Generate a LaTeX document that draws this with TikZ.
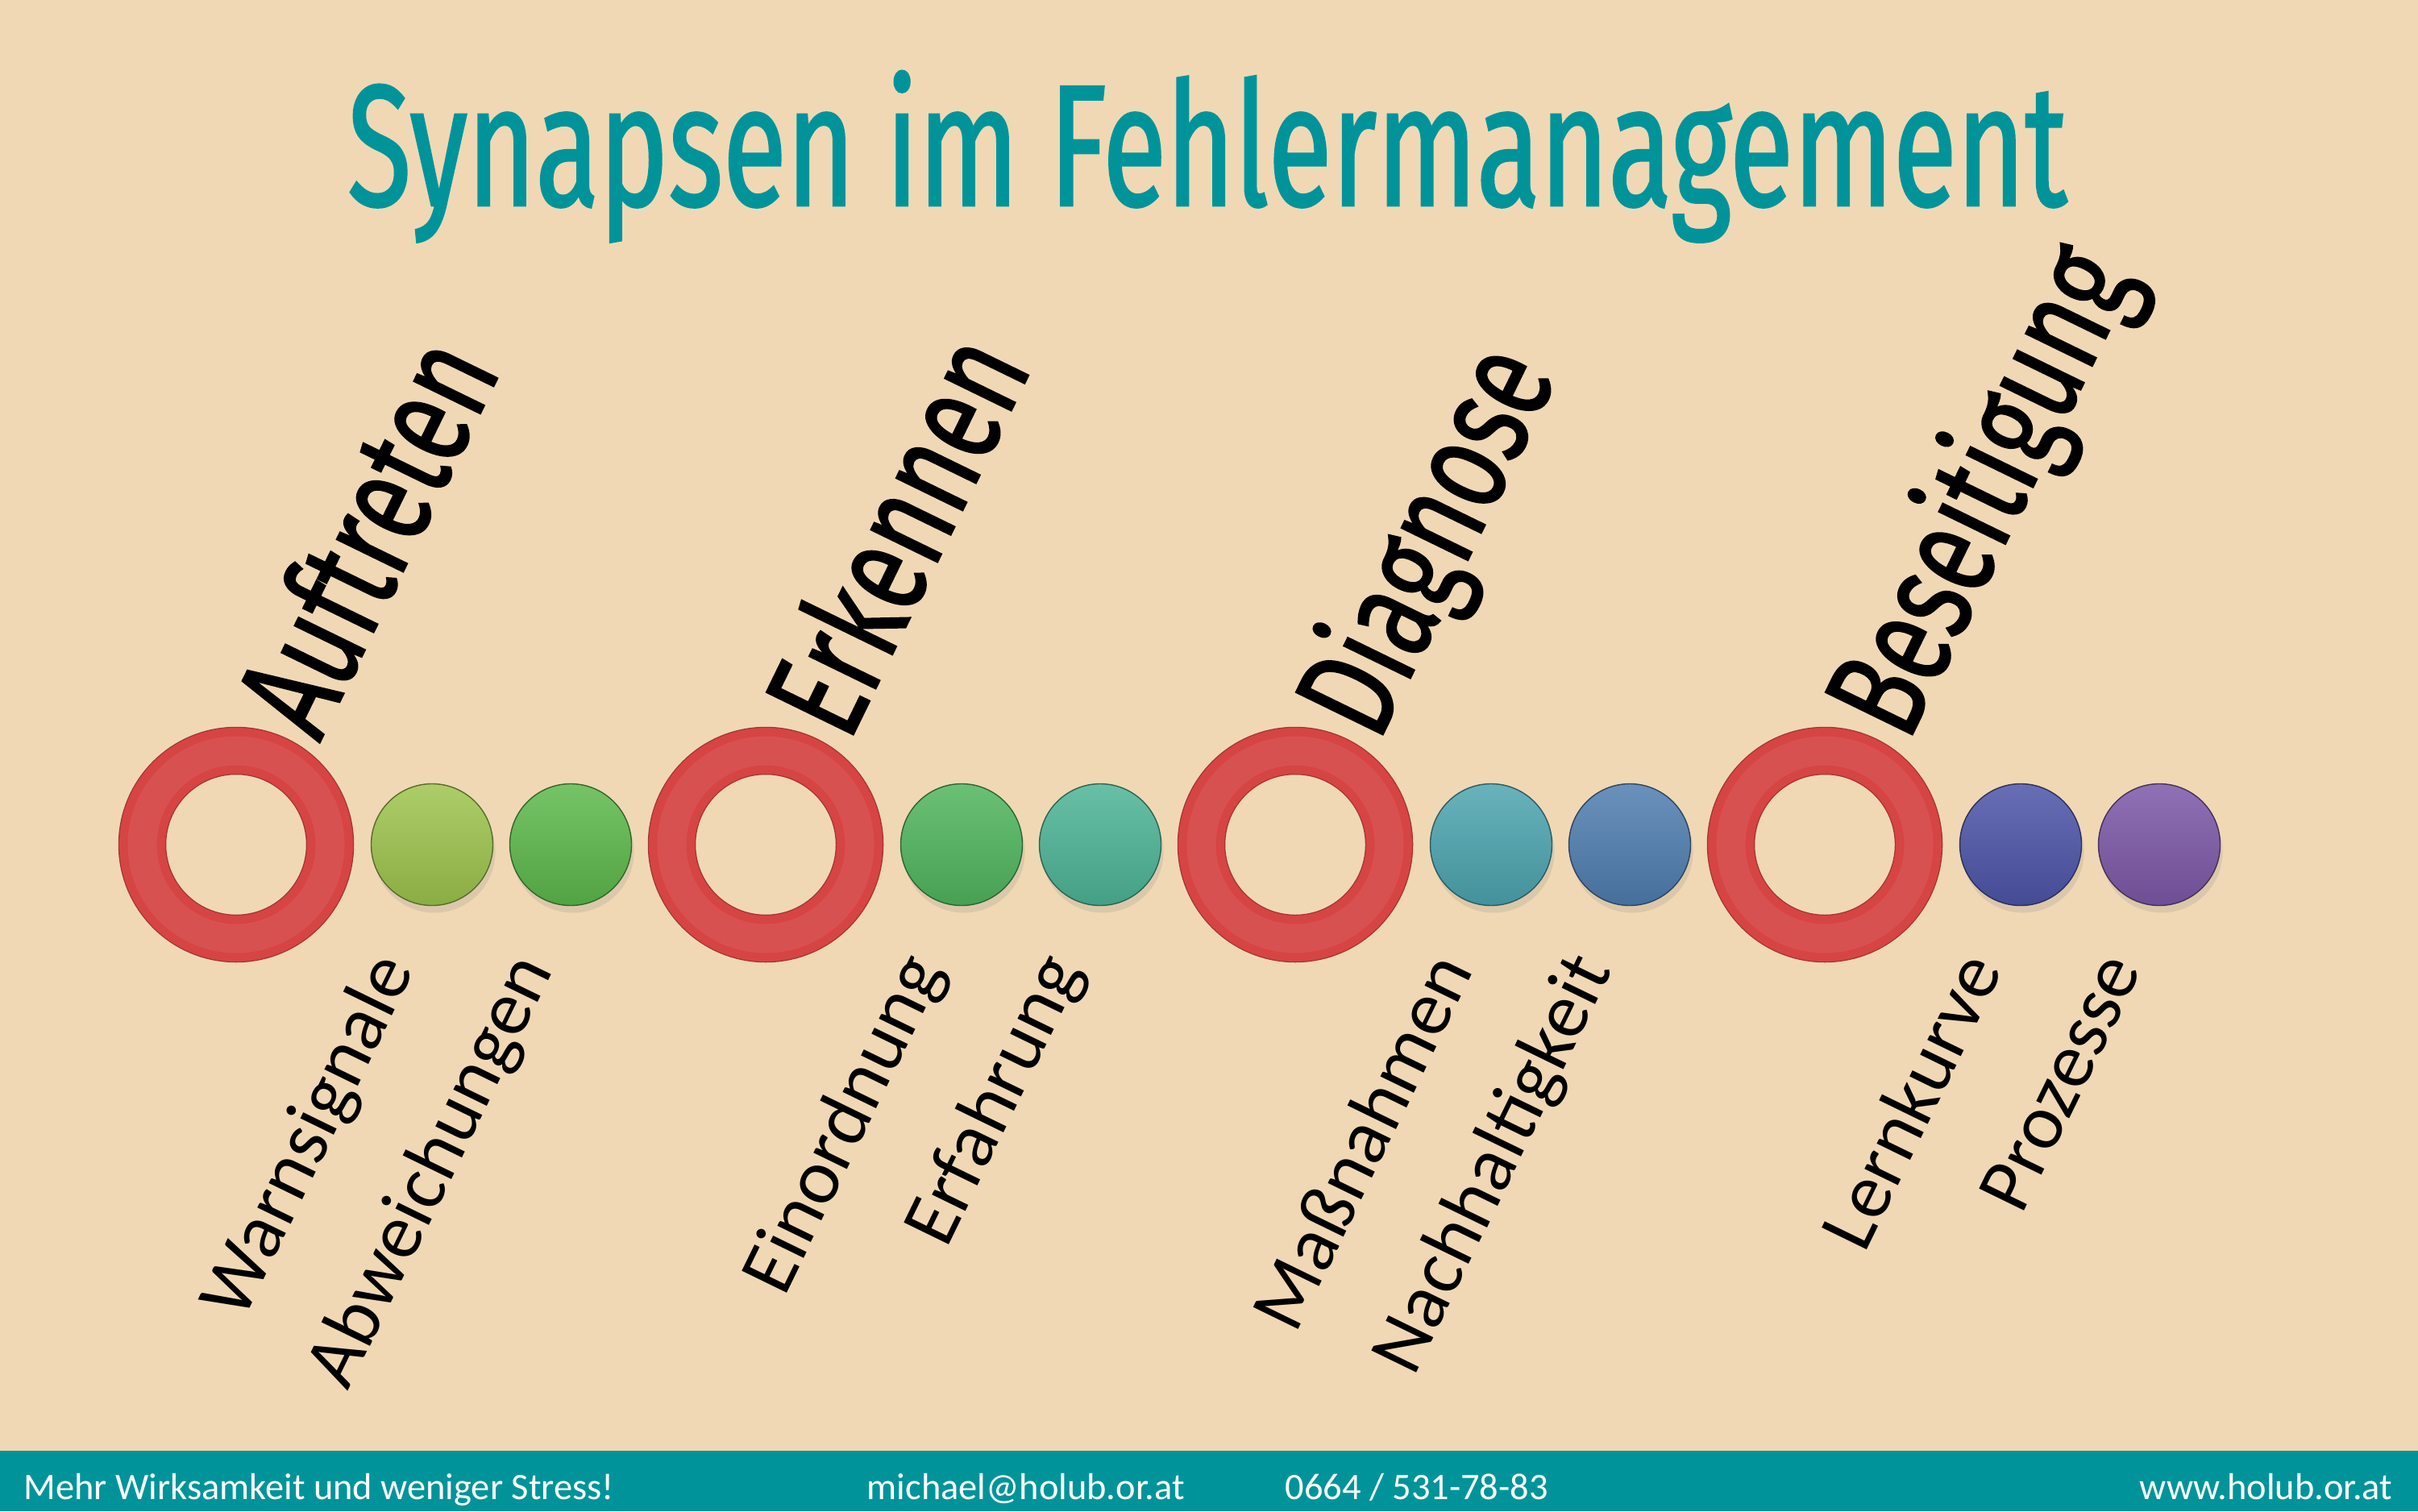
\documentclass[tikz,border=0pt]{standalone}
\usepackage{fontspec}
\setmainfont{Carlito}
\newfontfamily\headfont[FakeStretch=0.7,FakeBold=1.2]{Fira Sans}
\newfontfamily\titlefont[FakeStretch=0.675,FakeBold=1.2]{Fira Sans}
\usetikzlibrary{shadows}
\definecolor{bgsand}{RGB}{240,216,180}
\definecolor{petrol}{RGB}{0,148,154}
\definecolor{ringred}{RGB}{214,68,68}
\definecolor{beadA}{RGB}{158,196,78}
\definecolor{beadB}{RGB}{93,185,76}
\definecolor{beadC}{RGB}{80,182,94}
\definecolor{beadD}{RGB}{77,181,150}
\definecolor{beadE}{RGB}{77,165,176}
\definecolor{beadF}{RGB}{79,126,176}
\definecolor{beadG}{RGB}{78,85,168}
\definecolor{beadH}{RGB}{125,88,168}
\def\rowy{8.27}
\def\stagey{9.52}
\def\cuey{6.72}
\tikzset{
  synring/.style={circle,inner sep=0pt,minimum size=2.33cm,draw=ringred,line width=5.7mm,
    preaction={draw=ringred!75!black,line width=5.95mm},
    postaction={draw=white,draw opacity=0.07,line width=3.6mm}},
  bead/.style={circle,inner sep=0pt,minimum size=1.51cm,draw=#1!55!black,thin,
    top color=#1!85!white,middle color=#1,bottom color=#1!88!black,
    drop shadow={opacity=0.18,shadow xshift=0.3mm,shadow yshift=-0.9mm}},
  stage/.style={font=\headfont\fontsize{49.5}{50}\selectfont,rotate=64,anchor=base west,inner sep=0pt},
  cue/.style={font=\fontsize{27.5}{28}\selectfont,rotate=64,anchor=base east,inner sep=0pt},
  footer/.style={font=\fontsize{13.2}{14}\selectfont,text=white,inner sep=0pt}
}
\begin{document}
\begin{tikzpicture}
        %
        \fill[bgsand] (0,0) rectangle (30,18.75);
        \useasboundingbox (0,0) rectangle (30,18.75);
        \fill[petrol] (0,0) rectangle (30,0.75); % Fusszeile
        %
        \node[anchor=base,inner sep=0pt,text=petrol,font=\titlefont\fontsize{61}{62}\selectfont] (titel) at (14.98,16.20) {Synapsen im Fehlermanagement};
        %
        \node[synring] (auftreten) at (2.93,\rowy) {};
        \node[bead=beadA] (warn) at (5.36,\rowy) {};
        \node[bead=beadB] (abw) at (7.08,\rowy) {};
        \node[synring] (erkennen) at (9.50,\rowy) {};
        \node[bead=beadC] (einord) at (11.93,\rowy) {};
        \node[bead=beadD] (erfahr) at (13.65,\rowy) {};
        \node[synring] (diagnose) at (16.07,\rowy) {};
        \node[bead=beadE] (massn) at (18.50,\rowy) {};
        \node[bead=beadF] (nachh) at (20.22,\rowy) {};
        \node[synring] (beseitigung) at (22.64,\rowy) {};
        \node[bead=beadG] (lernk) at (25.07,\rowy) {};
        \node[bead=beadH] (proz) at (26.79,\rowy) {};
        %
        \node[stage] (tAuftreten) at (3.96,\stagey) {Auftreten};
        \node[stage] (tErkennen) at (10.53,\stagey) {Erkennen};
        \node[stage] (tDiagnose) at (17.10,\stagey) {Diagnose};
        \node[stage] (tBeseitigung) at (23.67,\stagey) {Beseitigung};
        %
        \node[cue] (tWarn) at (5.15,\cuey) {Warnsignale};
        \node[cue] (tAbw) at (6.87,\cuey) {Abweichungen};
        \node[cue] (tEinord) at (11.72,\cuey) {Einordnung};
        \node[cue] (tErfahr) at (13.44,\cuey) {Erfahrung};
        \node[cue] (tMassn) at (18.29,\cuey) {Maßnahmen};
        \node[cue] (tNachh) at (20.01,\cuey) {Nachhaltigkeit};
        \node[cue] (tLernk) at (24.86,\cuey) {Lernkurve};
        \node[cue] (tProz) at (26.58,\cuey) {Prozesse};
        %
        \node[footer,anchor=base west] (motto) at (0.29,0.15) {Mehr Wirksamkeit und weniger Stress!};
        \node[footer,anchor=base west] (mail) at (10.75,0.15) {michael@holub.or.at};
        \node[footer,anchor=base west] (tel) at (15.94,0.15) {0664 / 531-78-83};
        \node[footer,anchor=base east] (web) at (29.69,0.15) {www.holub.or.at};
      \end{tikzpicture}
\end{document}
